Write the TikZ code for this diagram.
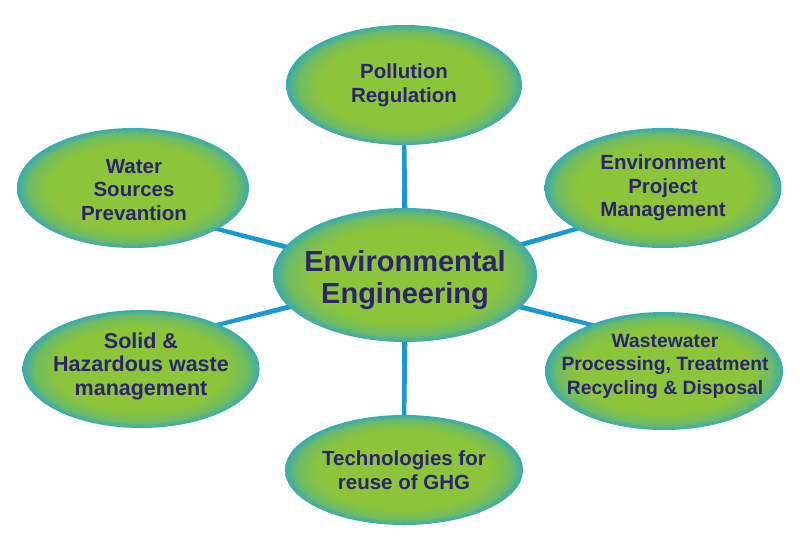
\documentclass[tikz,border=0pt]{standalone}
\usepackage{fontspec}
\setmainfont{Liberation Sans}
\usetikzlibrary{shapes.geometric,backgrounds,calc}
\definecolor{bubgreen}{RGB}{140,197,58}
\definecolor{bubteal}{RGB}{56,170,176}
\definecolor{txtnavy}{RGB}{44,36,112}
\definecolor{linkblue}{RGB}{24,152,214}
\pgfdeclareradialshading{bubble}{\pgfpoint{0bp}{0bp}}{%
  color(0bp)=(bubgreen); color(18bp)=(bubgreen); color(22.5bp)=(bubgreen!65!bubteal); color(25bp)=(bubteal); color(50bp)=(bubteal)}
\tikzset{
  bub/.style={ellipse, shading=bubble, draw=none, inner sep=0pt},
  btxt/.style={text=txtnavy, font=\bfseries\fontsize{#1}{23.5}\selectfont, align=center, inner sep=0pt},
  btxt/.default=20.5,
  ctxt/.style={text=txtnavy, font=\bfseries\fontsize{29}{32}\selectfont, align=center, inner sep=0pt},
  linkfill/.style={fill=linkblue}
}
\newcommand\taperlink[2]{%
  \fill[linkfill] ($(#1)!3.2pt!90:(#2)$) -- ($(#1)!3.2pt!-90:(#2)$) -- ($(#2)!1.6pt!90:(#1)$) -- ($(#2)!1.6pt!-90:(#1)$) -- cycle;}
\begin{document}
\begin{tikzpicture}[x=1pt,y=-1pt]
\useasboundingbox (0,0) rectangle (800,551);
\node[bub, minimum width=264pt, minimum height=134pt] (c) at (405,275) {};
\node[bub, minimum width=236pt, minimum height=120pt] (p) at (404,85) {};
\node[bub, minimum width=232pt, minimum height=120pt] (w) at (133,188) {};
\node[bub, minimum width=237pt, minimum height=120pt] (e) at (663,188) {};
\node[bub, minimum width=237pt, minimum height=118pt] (s) at (141,369) {};
\node[bub, minimum width=238pt, minimum height=118pt] (ww) at (664,371) {};
\node[bub, minimum width=238pt, minimum height=110pt] (t) at (404,470) {};
\node[ctxt] (ct) at (405,280) {Environmental\\Engineering};
\node[btxt] (pt) at (404,85) {Pollution\\Regulation};
\node[btxt] (et) at (663,188) {Environment\\Project\\Management};
\node[btxt] (wt) at (134,190) {Water\\Sources\\Prevantion};
\node[btxt=21.5] (st) at (141,366) {Solid \&\\Hazardous waste\\management};
\node[btxt=19.3] (wwt) at (665,366) {Wastewater\\Processing, Treatment\\Recycling \& Disposal};
\node[btxt] (tt) at (404,470) {Technologies for\\reuse of GHG};
\coordinate (cc) at ($(c.center)+(0,3)$);
\coordinate (wA) at ($(w.center)+(0,19)$);
\coordinate (eA) at ($(e.center)+(0,16)$);
\coordinate (sA) at ($(s.center)+(0,-25)$);
\coordinate (wwA) at ($(ww.center)+(0,-28)$);
\begin{scope}[on background layer]
\taperlink{c.center}{p.center}
\taperlink{c.center}{t.center}
\taperlink{cc}{wA}
\taperlink{cc}{eA}
\taperlink{cc}{sA}
\taperlink{cc}{wwA}
\end{scope}
\end{tikzpicture}
\end{document}
